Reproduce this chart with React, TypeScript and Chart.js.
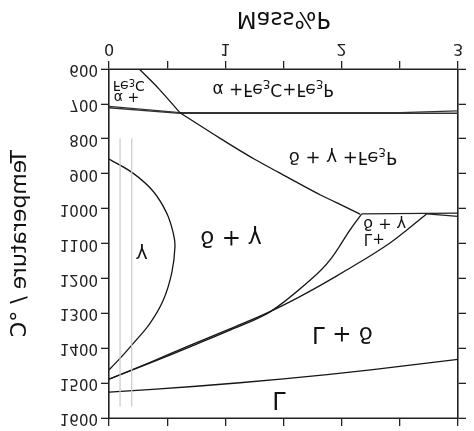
import React, { useEffect, useRef } from 'react';
import { Chart, registerables } from 'chart.js';

Chart.register(...registerables);

// ---- axis ticks ----
const xTickValues = [0, 0.5, 1, 1.5, 2, 2.5, 3];
const yTickValues = [600, 700, 800, 900, 1000, 1100, 1200, 1300, 1400, 1500, 1600];

// ---- phase boundaries (mass% P, temperature °C) ----
const gammaLoopP = [0, 0.209, 0.381, 0.496, 0.553, 0.567, 0.539, 0.467, 0.352, 0.209, 0.095, 0];
const gammaLoopT = [858, 899, 951, 1013, 1071, 1109, 1185, 1262, 1329, 1386, 1429, 1462];

const deltaGammaP = [0, 0.35, 0.696, 1.05, 1.384, 1.728, 1.9, 2.072, 2.172];
const deltaGammaT = [1489, 1443, 1396, 1347, 1296, 1205, 1147, 1061, 1015];

const solidusP = [0, 0.35, 0.696, 1.05, 1.384, 1.72, 2.043, 2.4, 2.731];
const solidusT = [1489, 1441, 1392, 1343, 1295, 1238, 1176, 1102, 1015];

const liquidusP = [0, 0.75, 1.5, 2.25, 3];
const liquidusT = [1526, 1509, 1488, 1462, 1432];

const fe3cUpperP = [0.26, 0.41, 0.61];
const fe3cUpperT = [600, 650, 725];

const fe3pSolvusP = [0.61, 0.9, 1.212, 1.5, 1.8, 2.0, 2.158];
const fe3pSolvusT = [725, 787, 851, 904, 958, 990, 1016];

const eutectoid1P = [0, 0.61, 2.5, 3];
const eutectoid1T = [707, 725, 725, 720];
const eutectoid2P = [0, 0.61, 3];
const eutectoid2T = [711, 727, 727];

const eutecticAP = [2.172, 3];
const eutecticAT = [1015, 1013];
const eutecticBP = [2.731, 3];
const eutecticBT = [1015, 1022];

const alloy1P = [0.095, 0.095];
const alloy2P = [0.195, 0.195];
const alloyT = [799, 1567];

// ---- region labels ----
const labelTexts = ['α +Fe{3}C+Fe{3}P', 'α +', 'Fe{3}C', 'δ + γ +Fe{3}P', 'γ', 'δ + γ', 'L+', 'δ + γ', 'L + δ', 'L'];
const labelP = [1.41, 0.15, 0.17, 2.01, 0.284, 1.05, 2.28, 2.37, 2.007, 1.46];
const labelT = [655, 680, 646, 851, 1127, 1080, 1085, 1041, 1357, 1543];
const labelSizes = [17, 14, 14, 18, 20, 23, 15, 16, 23, 24];

const LINE = '#151515';
const AXIS = '#222';
const FONT = 'DejaVu Sans';

function pts(ps: number[], ts: number[]) {
  return ps.map((p, i) => ({ x: p, y: ts[i] }));
}

function curve(ps: number[], ts: number[], tension: number, color = LINE, width = 1.3) {
  return {
    data: pts(ps, ts),
    showLine: true,
    borderColor: color,
    borderWidth: width,
    pointRadius: 0,
    fill: false,
    tension,
  };
}

function parseRich(text: string) {
  const parts: { t: string; sub: boolean }[] = [];
  const re = /\{([^}]*)\}|([^{]+)/g;
  let m: RegExpExecArray | null;
  while ((m = re.exec(text))) {
    if (m[1] !== undefined) parts.push({ t: m[1], sub: true });
    else parts.push({ t: m[2], sub: false });
  }
  return parts;
}

function drawRich(ctx: CanvasRenderingContext2D, cx: number, cy: number, text: string, size: number) {
  const parts = parseRich(text);
  const subSize = Math.round(size * 0.68);
  let total = 0;
  const widths = parts.map((p) => {
    ctx.font = `${p.sub ? subSize : size}px "${FONT}"`;
    const w = ctx.measureText(p.t).width;
    total += w;
    return w;
  });
  let x = cx - total / 2;
  parts.forEach((p, i) => {
    ctx.font = `${p.sub ? subSize : size}px "${FONT}"`;
    ctx.fillText(p.t, x, p.sub ? cy + size * 0.28 : cy);
    x += widths[i];
  });
}

const labelPlugin = {
  id: 'phaseLabels',
  afterDatasetsDraw(chart: any) {
    const { ctx, scales } = chart;
    const xs = scales.x;
    const ys = scales.y;
    ctx.save();
    ctx.fillStyle = '#111';
    ctx.textBaseline = 'middle';
    ctx.textAlign = 'left';
    labelTexts.forEach((txt, i) => {
      drawRich(ctx, xs.getPixelForValue(labelP[i]), ys.getPixelForValue(labelT[i]), txt, labelSizes[i]);
    });
    ctx.restore();
  },
};

export default function App() {
  const ref = useRef<HTMLCanvasElement | null>(null);

  useEffect(() => {
    if (!ref.current) return;
    const grid = { drawOnChartArea: false, drawTicks: true, tickLength: 8, color: AXIS, lineWidth: 1.3 };
    const border = { display: true, color: AXIS, width: 1.6 };
    const chart = new Chart(ref.current, {
      type: 'scatter',
      data: {
        datasets: [
          curve(alloy1P, alloyT, 0, '#c9c9c9', 1.2),
          curve(alloy2P, alloyT, 0, '#c9c9c9', 1.2),
          curve(gammaLoopP, gammaLoopT, 0.4),
          curve(deltaGammaP, deltaGammaT, 0.35),
          curve(solidusP, solidusT, 0.35),
          curve(liquidusP, liquidusT, 0.3),
          curve(fe3cUpperP, fe3cUpperT, 0.3),
          curve(fe3pSolvusP, fe3pSolvusT, 0.3),
          curve(eutectoid1P, eutectoid1T, 0, '#333', 1.4),
          curve(eutectoid2P, eutectoid2T, 0, '#333', 1.4),
          curve(eutecticAP, eutecticAT, 0, '#222', 1.4),
          curve(eutecticBP, eutecticBT, 0, '#222', 1.2),
        ] as any,
      },
      options: {
        responsive: false,
        animation: false,
        events: [],
        layout: { padding: 0 },
        plugins: { legend: { display: false }, tooltip: { enabled: false } },
        scales: {
          x: {
            type: 'linear',
            position: 'bottom',
            min: 0,
            max: 3,
            afterFit: (s: any) => { s.height = 69; },
            afterBuildTicks: (s: any) => { s.ticks = xTickValues.map((v) => ({ value: v })); },
            ticks: {
              autoSkip: false,
              maxRotation: 0,
              padding: 3,
              color: AXIS,
              font: { family: FONT, size: 16 },
              callback: (v: any) => (Number.isInteger(Number(v)) ? String(v) : ''),
            },
            grid,
            border,
            title: {
              display: true,
              text: 'Mass%P',
              color: '#111',
              font: { family: FONT, size: 23 },
              padding: { top: 0, bottom: 4 },
            },
          },
          x2: {
            type: 'linear',
            position: 'top',
            min: 0,
            max: 3,
            afterFit: (s: any) => { s.height = 13; },
            afterBuildTicks: (s: any) => { s.ticks = xTickValues.map((v) => ({ value: v })); },
            ticks: { display: false },
            grid,
            border,
          },
          y: {
            type: 'linear',
            position: 'left',
            min: 600,
            max: 1600,
            afterFit: (s: any) => { s.width = 109; },
            afterBuildTicks: (s: any) => { s.ticks = yTickValues.map((v) => ({ value: v })); },
            ticks: {
              autoSkip: false,
              padding: 3,
              color: AXIS,
              font: { family: FONT, size: 15 },
              callback: (v: any) => String(v),
            },
            grid,
            border,
            title: {
              display: true,
              text: 'Temperature / °C',
              color: '#111',
              font: { family: FONT, size: 22 },
              padding: { top: 7, bottom: 0 },
            },
          },
          y2: {
            type: 'linear',
            position: 'right',
            min: 600,
            max: 1600,
            afterFit: (s: any) => { s.width = 16; },
            afterBuildTicks: (s: any) => { s.ticks = yTickValues.map((v) => ({ value: v })); },
            ticks: { display: false },
            grid,
            border,
          },
        },
      } as any,
      plugins: [labelPlugin],
    });
    return () => chart.destroy();
  }, []);

  return (
    <div
      style={{
        position: 'fixed',
        left: 0,
        top: 0,
        width: 474,
        height: 431,
        background: '#fff',
        transform: 'scaleY(-1)',
      }}
    >
      <canvas ref={ref} width={474} height={431} style={{ display: 'block', width: 474, height: 431 }} />
    </div>
  );
}
